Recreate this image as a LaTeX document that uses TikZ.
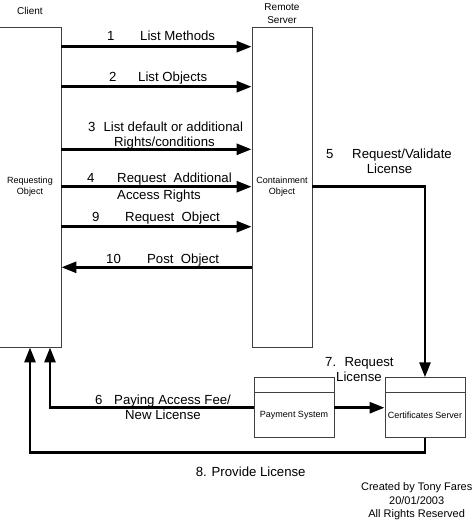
\documentclass[tikz,border=0pt]{standalone}
\usepackage{fontspec}
\setmainfont{Liberation Sans}
\usetikzlibrary{arrows.meta}
\definecolor{boxline}{HTML}{404040}
\tikzset{
  box/.style={draw=boxline, line width=0.9pt, fill=white, inner sep=0pt, align=center,
    font=\fontsize{9}{10.7}\selectfont},
  arr/.style={line width=2.8pt, -{Triangle[length=15pt,width=11pt]}},
  lbl/.style={inner sep=0pt, anchor=base west, font=\fontsize{13.2}{16}\selectfont},
  lblc/.style={inner sep=0pt, anchor=base, font=\fontsize{13.2}{16}\selectfont},
  small/.style={inner sep=0pt, anchor=base, font=\fontsize{10}{12}\selectfont},
  boxtxt/.style={inner sep=0pt, font=\fontsize{9}{10.7}\selectfont},
  credit/.style={inner sep=0pt, anchor=base, font=\fontsize{11}{13}\selectfont},
}
\begin{document}
\begin{tikzpicture}[x=1pt,y=-1pt]
\useasboundingbox (0,0) rectangle (474,520);
% boxes
\node[box, minimum width=62pt, minimum height=320pt] (client) at (30,187) {Requesting\\Object};
\node[box, minimum width=60pt, minimum height=320pt] (remote) at (282,187) {Containment\\Object};
\node[box, minimum width=80pt, minimum height=60pt] (pay) at (294,407.7) {};
\node[box, minimum width=80pt, minimum height=60pt] (cert) at (425,407.7) {};
\draw[boxline, line width=0.9pt] ([yshift=-15pt]pay.north west) -- ([yshift=-15pt]pay.north east);
\draw[boxline, line width=0.9pt] ([yshift=-15pt]cert.north west) -- ([yshift=-15pt]cert.north east);
\node[boxtxt] (paytxt) at ([yshift=-7.3pt]pay.center) {Payment System};
\node[boxtxt] (certtxt) at ([yshift=-7.3pt]cert.center) {Certificates Server};
% titles
\node[small] (clienttitle) at (30,14) {Client};
\node[small] (remotetitle1) at (282,10.7) {Remote};
\node[small] (remotetitle2) at (282,23) {Server};
% horizontal arrows
\coordinate (y1) at (0,46.7);
\coordinate (y2) at (0,86.7);
\coordinate (y3) at (0,149.3);
\coordinate (y4) at (0,186.7);
\coordinate (y9) at (0,226.7);
\coordinate (y10) at (0,267.3);
\coordinate (y8) at (0,452.7);
\draw[arr] (client.east |- y1) -- (remote.west |- y1);
\draw[arr] (client.east |- y2) -- (remote.west |- y2);
\draw[arr] (client.east |- y3) -- (remote.west |- y3);
\draw[arr] (client.east |- y4) -- (remote.west |- y4);
\draw[arr] (client.east |- y9) -- (remote.west |- y9);
\draw[arr] (remote.west |- y10) -- (client.east |- y10);
% 5
\draw[arr] (remote.east |- y4) -| (cert.north);
% 6
\draw[arr] (pay.west) -| ([xshift=20pt]client.south);
% 7
\draw[arr] (pay.east) -- (cert.west);
% 8
\draw[arr] (cert.south) |- (y8 -| client.south) -- (client.south);
% labels
\node[lbl] (l1) at (107,40) {1\hspace{25.7pt}List Methods};
\node[lbl] (l2) at (109,81.3) {2\hspace{21.7pt}List Objects};
\node[lbl] (l3a) at (88,131) {3\hspace{8pt}List default or additional};
\node[lbl] (l3b) at (114,146.7) {Rights/conditions};
\node[lbl] (l4a) at (87,182.7) {4\hspace{22.7pt}Request\ \ Additional};
\node[lbl] (l4b) at (117,199) {Access Rights};
\node[lbl] (l9) at (92,221) {9\hspace{25.7pt}Request\ \ Object};
\node[lbl] (l10) at (106,263.3) {10\hspace{26.3pt}Post\ \ Object};
\node[lbl] (l5a) at (326,158.3) {5\hspace{18.7pt}Request/Validate};
\node[lblc] (l5b) at (389.5,173.3) {License};
\node[lbl] (l6a) at (95,404.3) {6\hspace{11.7pt}Paying Access Fee/};
\node[lbl] (l6b) at (125,419.3) {New License};
\node[lbl] (l7a) at (325,366) {7.\hspace{8.3pt}Request};
\node[lbl] (l7b) at (336,381.7) {License};
\node[lblc] (l8) at (250.7,476.7) {8. Provide License};
\node[credit] (c1) at (416.7,490.7) {Created by Tony Fares};
\node[credit] (c2) at (416.7,504) {20/01/2003};
\node[credit] (c3) at (416.7,517.3) {All Rights Reserved};
\end{tikzpicture}
\end{document}
